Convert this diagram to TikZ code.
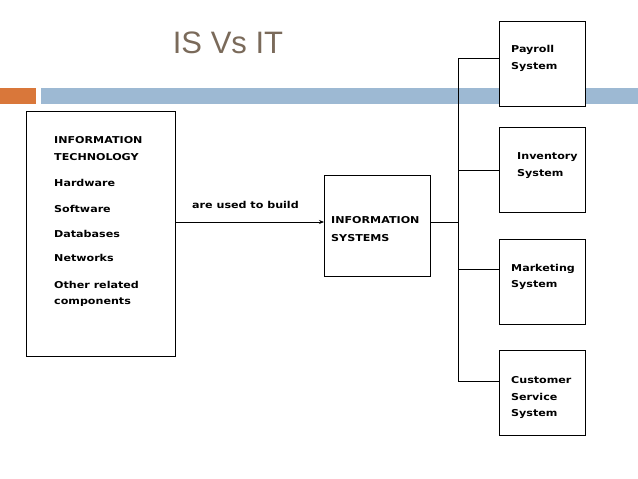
\documentclass[tikz,border=0pt]{standalone}
\usepackage{fontspec}
\setmainfont{Liberation Sans}
\newfontfamily\wide[FakeStretch=1.17]{DejaVu Sans}
\usetikzlibrary{arrows.meta}
\definecolor{titlec}{HTML}{7A6A5A}
\definecolor{orangec}{HTML}{D9773A}
\definecolor{bluec}{HTML}{9DB9D3}
\begin{document}
\begin{tikzpicture}[x=1pt,y=-1pt,
  box/.style={draw,fill=white,line width=0.8pt,inner sep=0pt},
  txt/.style={anchor=west,font=\wide\bfseries\fontsize{9.5}{11}\selectfont,inner sep=0pt},
  ln/.style={line width=0.8pt}]
\useasboundingbox (0,0) rectangle (638,479);
\node[font=\fontsize{31}{34}\selectfont,text=titlec,anchor=center] (title) at (228,43) {IS Vs IT};
\fill[orangec] (0,88) rectangle (36,104);
\fill[bluec] (41,88) rectangle (638,104);
% left box
\node[box,minimum width=149,minimum height=245] (it) at (100.5,233.5) {};
\foreach \t/\y [count=\i] in {INFORMATION/140,TECHNOLOGY/157,Hardware/183,Software/209,Databases/234,Networks/258,Other related/285,components/302}
  \node[txt] (l\i) at (54,\y) {\t};
% IS box
\node[box,minimum width=106,minimum height=101] (is) at (377,225.5) {};
\node[txt] (is1) at (331,220) {INFORMATION};
\node[txt] (is2) at (331,238) {SYSTEMS};
\coordinate (a1) at (175,222);
\coordinate (a2) at (324,222);
\draw[ln,-{Stealth[length=5pt,width=4pt]}] (a1) -- (a2);
\node[txt] (lab) at (192,205) {are used to build};
% tree
\coordinate (b0) at (430,222);
\coordinate (bj) at (458,222);
\coordinate (t1) at (458,58);
\coordinate (t2) at (458,170);
\coordinate (t3) at (458,269);
\coordinate (t4) at (458,381);
\coordinate (e1) at (499,58);
\coordinate (e2) at (499,170);
\coordinate (e3) at (499,269);
\coordinate (e4) at (499,381);
\draw[ln] (b0) -- (bj);
\draw[ln] (t1) -- (t4);
\draw[ln] (t1) -- (e1);
\draw[ln] (t2) -- (e2);
\draw[ln] (t3) -- (e3);
\draw[ln] (t4) -- (e4);
% right boxes
\node[box,minimum width=86,minimum height=85] (p) at (542,63.5) {};
\node[box,minimum width=86,minimum height=85] (inv) at (542,169.5) {};
\node[box,minimum width=86,minimum height=85] (m) at (542,281.5) {};
\node[box,minimum width=86,minimum height=85] (c) at (542,392.5) {};
\node[txt] (p1) at (511,50) {Payroll};
\node[txt] (p2) at (511,67) {System};
\node[txt] (i1) at (517,157) {Inventory};
\node[txt] (i2) at (517,174) {System};
\node[txt] (m1) at (511,269) {Marketing};
\node[txt] (m2) at (511,285) {System};
\node[txt] (c1) at (511,380) {Customer};
\node[txt] (c2) at (511,397) {Service};
\node[txt] (c3) at (511,414) {System};
\end{tikzpicture}
\end{document}
